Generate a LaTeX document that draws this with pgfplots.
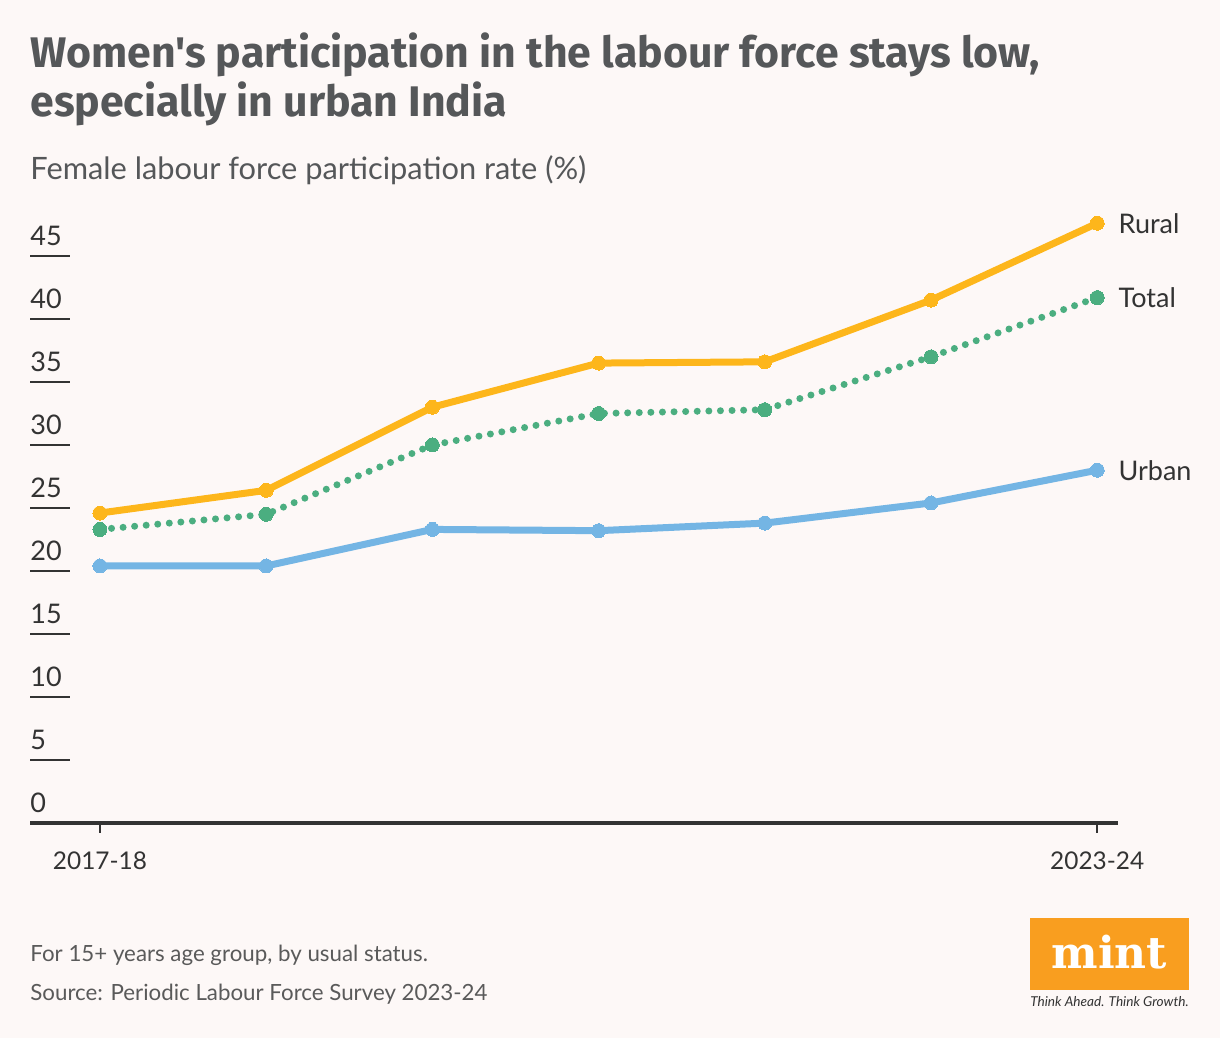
\documentclass[border=0pt]{standalone}
\usepackage{pgfplots}
\pgfplotsset{compat=1.18}
\usepackage{fontspec}
\setmainfont{Lato}
\newfontfamily\titlefont{Fira Sans}
\newfontfamily\logofont{DejaVu Serif}
\definecolor{bg}{HTML}{FDF8F7}
\definecolor{titlegray}{HTML}{555759}
\definecolor{txt}{HTML}{333333}
\definecolor{foot}{HTML}{5A5A5A}
\definecolor{rural}{HTML}{FDB61B}
\definecolor{total}{HTML}{4BAE80}
\definecolor{urban}{HTML}{74B5E4}
\definecolor{mintor}{HTML}{F99E1F}
\begin{document}
\begin{tikzpicture}[x=1pt,y=1pt]
\fill[bg] (0,0) rectangle (610,519);
\node[anchor=base west, inner sep=0, font=\titlefont\bfseries\fontsize{21.4}{24.5}\selectfont, text=titlegray] at (15,485) {Women's participation in the labour force stays low,};
\node[anchor=base west, inner sep=0, font=\titlefont\bfseries\fontsize{21.4}{24.5}\selectfont, text=titlegray] at (15,460.5) {especially in urban India};
\node[anchor=base west, inner sep=0, font=\fontsize{15.4}{18}\selectfont, text=titlegray] at (15,429) {Female labour force participation rate (\%)};
\node[anchor=base west, inner sep=0, font=\fontsize{11.15}{14}\selectfont, text=foot] at (15,38) {For 15+ years age group, by usual status.};
\node[anchor=base west, inner sep=0, font=\fontsize{11.15}{14}\selectfont, text=foot] at (15,18.5) {Source: Periodic Labour Force Survey 2023-24};
% logo
\fill[mintor] (515,24) rectangle (594.5,60);
\node[anchor=base, inner sep=0, font=\logofont\bfseries\fontsize{22}{22}\selectfont, text=white] at (554.75,34.5) {mint};
\node[anchor=base, inner sep=0, font=\itshape\fontsize{6.8}{8}\selectfont, text=txt] at (554.75,15.5) {Think Ahead. Think Growth.};
\begin{axis}[
  at={(15pt,107.5pt)}, anchor=south west,
  scale only axis, width=544pt, height=315pt,
  xmin=-0.421, xmax=6.125, ymin=0, ymax=50,
  axis x line*=bottom, axis y line*=left,
  y axis line style={draw=none},
  x axis line style={line width=2pt, color=txt},
  tick align=outside, major tick length=5pt,
  xtick={0,6}, xticklabels={2017-18,2023-24},
  xtick style={line width=1pt, color=txt},
  xticklabel style={font=\fontsize{12.2}{15}\selectfont, text=txt, yshift=-6pt},
  ytick={0,5,...,45},
  ytick style={draw=none},
  /pgf/number format/assume math mode=true,
  yticklabel style={anchor=base west, inner sep=0pt, xshift=5pt, yshift=5pt, font=\fontsize{13.5}{15}\selectfont, text=txt},
  clip=false,
]
\draw[line width=1pt, color=txt] (axis cs:-0.421,5) -- (axis cs:-0.180,5);
\draw[line width=1pt, color=txt] (axis cs:-0.421,10) -- (axis cs:-0.180,10);
\draw[line width=1pt, color=txt] (axis cs:-0.421,15) -- (axis cs:-0.180,15);
\draw[line width=1pt, color=txt] (axis cs:-0.421,20) -- (axis cs:-0.180,20);
\draw[line width=1pt, color=txt] (axis cs:-0.421,25) -- (axis cs:-0.180,25);
\draw[line width=1pt, color=txt] (axis cs:-0.421,30) -- (axis cs:-0.180,30);
\draw[line width=1pt, color=txt] (axis cs:-0.421,35) -- (axis cs:-0.180,35);
\draw[line width=1pt, color=txt] (axis cs:-0.421,40) -- (axis cs:-0.180,40);
\draw[line width=1pt, color=txt] (axis cs:-0.421,45) -- (axis cs:-0.180,45);
\addplot[color=urban, line width=3.5pt, line join=round, mark=*, mark size=3.5pt, mark options={solid, fill=urban, draw=urban, line width=0pt}]
 coordinates {(0,20.4) (1,20.4) (2,23.3) (3,23.2) (4,23.8) (5,25.4) (6,28.0)};
\addplot[color=total, line width=3.5pt, line cap=round, dash pattern=on 0pt off 5.8pt, mark=*, mark size=3.5pt, mark options={solid, fill=total, draw=total, line width=0pt}]
 coordinates {(0,23.3) (1,24.5) (2,30.0) (3,32.5) (4,32.8) (5,37.0) (6,41.7)};
\addplot[color=rural, line width=3.5pt, line join=round, mark=*, mark size=3.5pt, mark options={solid, fill=rural, draw=rural, line width=0pt}]
 coordinates {(0,24.6) (1,26.4) (2,33.0) (3,36.5) (4,36.6) (5,41.5) (6,47.6)};
\node[anchor=west, inner sep=0, xshift=10.5pt, font=\fontsize{13.5}{15}\selectfont, text=txt] at (axis cs:6,47.6) {Rural};
\node[anchor=west, inner sep=0, xshift=10.5pt, font=\fontsize{13.5}{15}\selectfont, text=txt] at (axis cs:6,41.7) {Total};
\node[anchor=west, inner sep=0, xshift=10.5pt, font=\fontsize{13.5}{15}\selectfont, text=txt] at (axis cs:6,28.0) {Urban};
\end{axis}
\end{tikzpicture}
\end{document}
